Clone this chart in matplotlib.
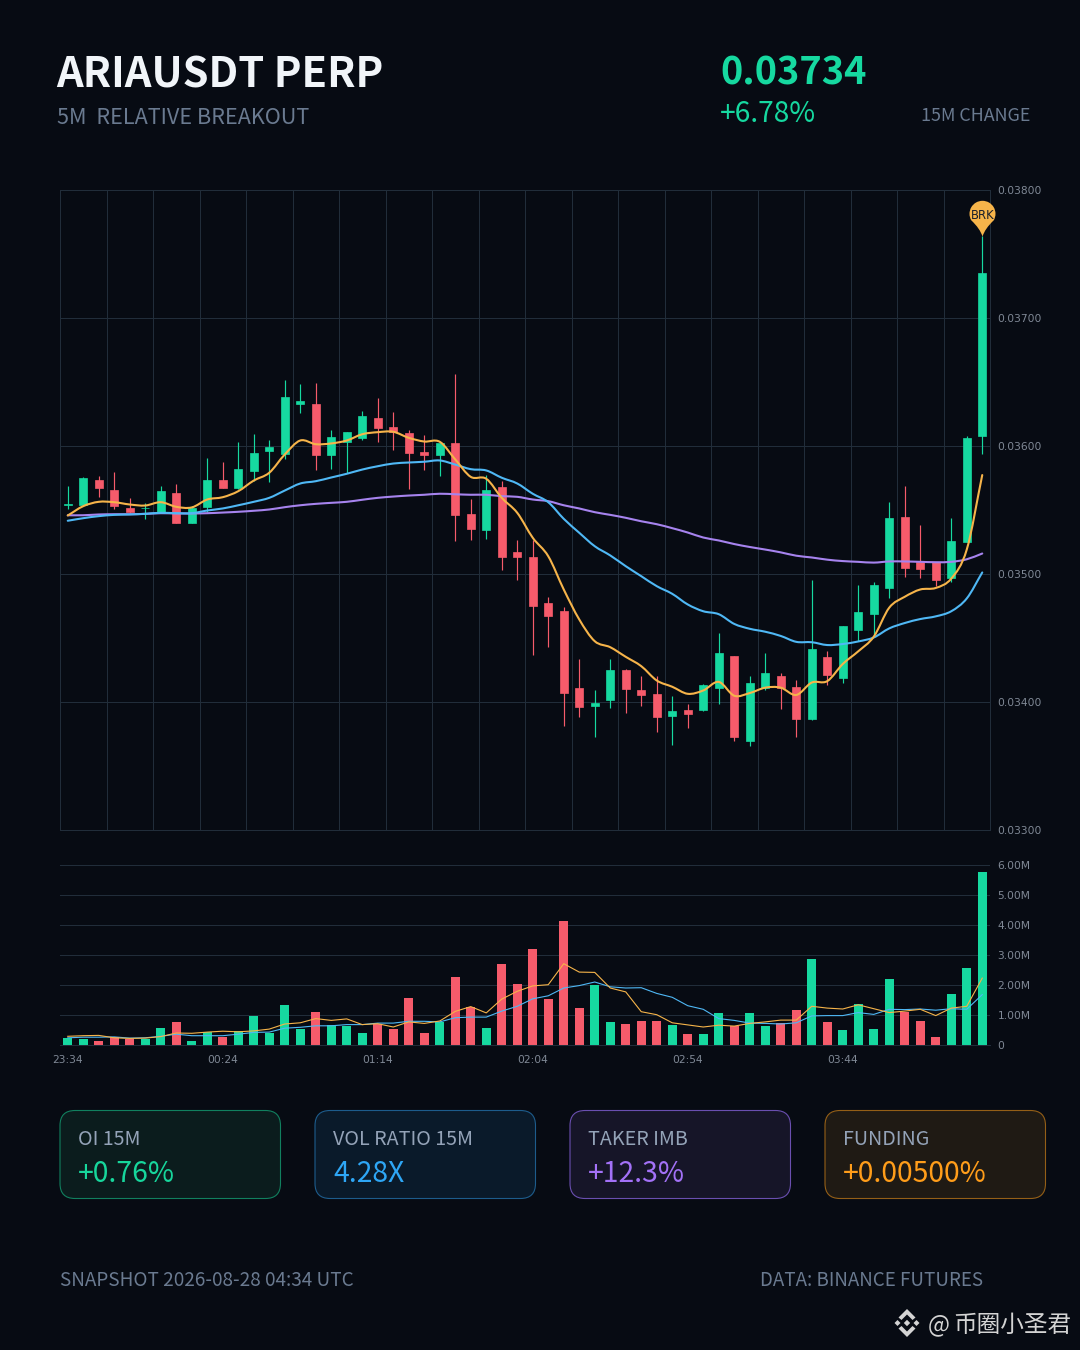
import numpy as np
import matplotlib
matplotlib.use('Agg')
import matplotlib.pyplot as plt
from matplotlib.patches import FancyBboxPatch, Polygon, PathPatch
from matplotlib.path import Path

plt.rcParams['font.family'] = ['Noto Sans CJK SC', 'DejaVu Sans']

# prices are in units of 0.00001
opens = [3553.9, 3554.1, 3573.8, 3566.0, 3551.7, 3551.2, 3548.3, 3562.9, 3540.0, 3552.0,
         3573.8, 3567.0, 3580.1, 3595.9, 3594.1, 3633.0, 3633.0, 3592.8, 3603.0, 3605.9,
         3622.0, 3615.0, 3609.8, 3595.7, 3592.8, 3602.0, 3547.0, 3534.0, 3567.8, 3516.8,
         3512.9, 3477.0, 3471.0, 3411.1, 3397.0, 3401.2, 3424.8, 3409.0, 3405.9, 3388.9,
         3393.9, 3394.1, 3411.2, 3435.6, 3369.7, 3411.2, 3420.5, 3411.7, 3386.7, 3434.8,
         3419.1, 3455.9, 3469.1, 3488.7, 3544.7, 3509.2, 3509.2, 3497.0, 3524.8, 3607.8]
closes = [3554.7, 3574.8, 3567.0, 3553.0, 3548.8, 3551.7, 3565.0, 3540.0, 3551.7, 3573.8,
          3567.0, 3581.9, 3594.9, 3599.6, 3637.9, 3634.8, 3592.8, 3606.9, 3611.1, 3623.8,
          3613.9, 3611.1, 3594.9, 3592.8, 3602.0, 3545.9, 3534.8, 3566.0, 3512.9, 3512.9,
          3474.8, 3466.8, 3407.2, 3396.0, 3399.6, 3424.8, 3409.8, 3405.1, 3387.9, 3392.8,
          3391.0, 3413.4, 3438.4, 3372.8, 3414.6, 3422.6, 3411.2, 3387.1, 3441.6, 3420.9,
          3459.0, 3470.5, 3491.6, 3543.8, 3504.9, 3503.8, 3495.5, 3525.7, 3606.6, 3734.8]
highs = [3568.4, 3575.4, 3576.7, 3579.3, 3559.5, 3555.6, 3568.4, 3570.5, 3553.5, 3590.5,
         3587.7, 3603.5, 3609.5, 3604.3, 3651.4, 3648.6, 3649.6, 3612.7, 3611.3, 3627.7,
         3637.7, 3626.4, 3612.7, 3608.4, 3602.5, 3655.9, 3558.4, 3577.2, 3572.3, 3526.2,
         3526.2, 3482.4, 3474.6, 3433.4, 3409.5, 3433.4, 3425.4, 3420.7, 3420.7, 3404.3,
         3398.6, 3414.0, 3454.1, 3436.3, 3420.3, 3438.2, 3422.6, 3417.4, 3495.3, 3440.2,
         3459.5, 3491.3, 3494.1, 3556.6, 3568.4, 3538.4, 3509.2, 3543.4, 3608.0, 3764.0]
lows = [3550.4, 3554.1, 3560.5, 3550.4, 3547.3, 3542.6, 3547.8, 3539.7, 3539.5, 3548.3,
        3567.0, 3566.6, 3572.5, 3571.5, 3590.2, 3625.4, 3581.4, 3582.4, 3578.7, 3604.3,
        3603.3, 3596.5, 3566.6, 3581.4, 3576.4, 3525.4, 3526.2, 3527.5, 3503.3, 3495.2,
        3436.6, 3442.6, 3381.4, 3388.1, 3372.5, 3395.5, 3391.6, 3396.5, 3376.4, 3366.2,
        3379.5, 3392.7, 3398.1, 3369.9, 3365.5, 3409.0, 3394.9, 3372.8, 3386.3, 3413.2,
        3415.2, 3447.3, 3450.9, 3481.3, 3498.0, 3496.5, 3490.7, 3493.6, 3524.8, 3593.4]

ma_orange = [3545.7, 3553.0, 3556.4, 3556.1, 3554.3, 3553.5, 3556.1, 3552.5, 3552.0, 3558.2,
             3560.0, 3564.7, 3573.0, 3579.1, 3593.4, 3604.3, 3601.4, 3602.0, 3604.3, 3609.2,
             3610.8, 3611.1, 3606.4, 3603.5, 3603.3, 3589.5, 3575.9, 3574.4, 3559.5, 3547.8,
             3528.3, 3513.9, 3487.9, 3464.5, 3447.5, 3442.8, 3435.3, 3428.0, 3416.8, 3411.9,
             3406.4, 3409.0, 3415.7, 3404.9, 3407.0, 3411.2, 3411.2, 3405.5, 3415.2, 3416.3,
             3429.7, 3439.6, 3451.0, 3473.7, 3482.2, 3487.9, 3489.1, 3496.4, 3519.1, 3577.3]
ma_blue = [3541.6, 3543.6, 3545.2, 3546.2, 3546.5, 3547.0, 3547.8, 3547.5, 3547.5, 3549.6,
           3551.2, 3553.7, 3556.4, 3559.5, 3565.2, 3570.7, 3572.5, 3575.4, 3578.3, 3581.6,
           3584.2, 3586.3, 3587.1, 3587.7, 3588.7, 3585.5, 3581.9, 3580.9, 3575.2, 3570.7,
           3562.7, 3556.1, 3543.1, 3532.2, 3521.7, 3514.5, 3506.1, 3498.3, 3490.5, 3484.5,
           3476.2, 3470.9, 3468.6, 3461.0, 3457.2, 3454.9, 3451.6, 3447.0, 3446.7, 3444.5,
           3445.3, 3447.3, 3450.4, 3457.5, 3461.7, 3464.8, 3466.9, 3470.9, 3480.9, 3501.2]
ma_purple = [3545.9, 3545.9, 3546.5, 3546.7, 3546.7, 3547.0, 3547.5, 3547.3, 3547.3, 3547.5,
             3548.0, 3548.6, 3549.4, 3550.4, 3552.2, 3553.7, 3554.8, 3555.6, 3556.4, 3558.0,
             3559.5, 3560.5, 3561.3, 3561.9, 3562.7, 3562.3, 3561.9, 3561.9, 3560.8, 3560.3,
             3558.2, 3556.9, 3553.7, 3551.2, 3548.3, 3546.2, 3543.9, 3541.2, 3538.9, 3535.8,
             3532.4, 3528.5, 3526.2, 3523.4, 3521.1, 3519.1, 3516.9, 3514.3, 3512.9, 3511.2,
             3510.1, 3509.5, 3508.9, 3509.8, 3509.8, 3509.5, 3509.2, 3509.5, 3511.5, 3516.0]

# volume in millions
volumes = [0.23, 0.19, 0.13, 0.26, 0.20, 0.21, 0.58, 0.78, 0.14, 0.42,
           0.28, 0.47, 0.96, 0.41, 1.33, 0.53, 1.09, 0.68, 0.64, 0.41,
           0.71, 0.53, 1.56, 0.39, 0.78, 2.27, 1.27, 0.57, 2.70, 2.03,
           3.20, 1.55, 4.12, 1.23, 2.00, 0.77, 0.70, 0.80, 0.79, 0.67,
           0.38, 0.36, 1.06, 0.62, 1.07, 0.63, 0.72, 1.16, 2.88, 0.77,
           0.50, 1.36, 0.52, 2.21, 1.11, 0.79, 0.28, 1.71, 2.57, 5.78]
vol_orange = [0.29, 0.31, 0.32, 0.24, 0.22, 0.23, 0.28, 0.40, 0.39, 0.43,
              0.46, 0.44, 0.47, 0.53, 0.70, 0.74, 0.88, 0.82, 0.87, 0.68,
              0.71, 0.60, 0.77, 0.72, 0.80, 1.12, 1.28, 1.07, 1.53, 1.79,
              1.97, 2.01, 2.71, 2.43, 2.42, 1.90, 1.77, 1.11, 1.01, 0.74,
              0.67, 0.60, 0.66, 0.63, 0.72, 0.77, 0.83, 0.83, 1.29, 1.23,
              1.20, 1.34, 1.21, 1.08, 1.13, 1.19, 0.98, 1.23, 1.29, 2.23]
vol_blue = [0.24, 0.26, 0.26, 0.27, 0.23, 0.24, 0.29, 0.36, 0.31, 0.31,
            0.31, 0.36, 0.42, 0.43, 0.56, 0.59, 0.64, 0.64, 0.68, 0.68,
            0.73, 0.73, 0.79, 0.79, 0.77, 0.91, 0.93, 0.93, 1.13, 1.29,
            1.54, 1.64, 1.90, 1.98, 2.10, 1.94, 1.90, 1.91, 1.72, 1.59,
            1.31, 1.19, 0.88, 0.82, 0.73, 0.72, 0.70, 0.74, 0.97, 0.98,
            0.98, 1.08, 1.02, 1.19, 1.18, 1.20, 1.16, 1.21, 1.19, 1.68]

time_ticks = [0, 10, 20, 30, 40, 50]
time_labels = ['23:34', '00:24', '01:14', '02:04', '02:54', '03:44']
price_ticks = [3300, 3400, 3500, 3600, 3700, 3800]
price_labels = ['0.03300', '0.03400', '0.03500', '0.03600', '0.03700', '0.03800']
vol_ticks = [0, 1, 2, 3, 4, 5, 6]
vol_labels = ['0', '1.00M', '2.00M', '3.00M', '4.00M', '5.00M', '6.00M']

cards = [('OI 15M', '+0.76%', '#17d69c', '#0b1c1d', '#11805f'),
         ('VOL RATIO 15M', '4.28X', '#2ea6f5', '#0a1a2a', '#1d5c8c'),
         ('TAKER IMB', '+12.3%', '#a371f7', '#161528', '#6a4fb0'),
         ('FUNDING', '+0.00500%', '#ff9d1a', '#1f1a14', '#945f17')]

BG = '#070b13'
GRID = '#212d3a'
UP = '#16d9a0'
DOWN = '#f65b6b'
TICK = '#808996'
SLATE = '#6a7a90'
W, H = 1080, 1350

fig = plt.figure(figsize=(W / 100, H / 100), dpi=100, facecolor=BG)


def axes_px(x0, y0, x1, y1):
    return fig.add_axes([x0 / W, 1 - y1 / H, (x1 - x0) / W, (y1 - y0) / H], facecolor='none')


def smooth_line(axis, xs, ys, color, lw, zorder):
    # bezier through the read points, the original line is a smoothed one
    ys = np.asarray(ys, dtype=float)
    xs = np.asarray(xs, dtype=float)
    verts = [(xs[0], ys[0])]
    codes = [Path.MOVETO]
    for i in range(len(xs) - 1):
        slope0 = (ys[i + 1] - ys[max(i - 1, 0)]) / (xs[i + 1] - xs[max(i - 1, 0)])
        slope1 = (ys[min(i + 2, len(ys) - 1)] - ys[i]) / (xs[min(i + 2, len(ys) - 1)] - xs[i])
        dx = (xs[i + 1] - xs[i]) / 3
        verts += [(xs[i] + dx, ys[i] + slope0 * dx), (xs[i + 1] - dx, ys[i + 1] - slope1 * dx),
                  (xs[i + 1], ys[i + 1])]
        codes += [Path.CURVE4] * 3
    axis.add_patch(PathPatch(Path(verts, codes), facecolor='none', edgecolor=color,
                             linewidth=lw, capstyle='round', joinstyle='round', zorder=zorder))


# page overlay in pixel coords, for header, cards and footer
page = fig.add_axes([0, 0, 1, 1], facecolor='none')
page.set_xlim(0, W)
page.set_ylim(H, 0)
page.axis('off')

page.text(56, 87, 'ARIAUSDT PERP', color='#f1f5f9', fontsize=30, fontweight='bold')
page.text(57, 123.5, '5M  RELATIVE BREAKOUT', color=SLATE, fontsize=15.6)
page.text(720, 84.5, '0.03734', color=UP, fontsize=27.3, fontweight='bold')
page.text(720, 122.5, '+6.78%', color=UP, fontsize=20.2)
page.text(1030, 121, '15M CHANGE', color=SLATE, fontsize=12.9, ha='right')

for n, (label, value, col, face, edge) in enumerate(cards):
    x0 = 60 + n * 255
    page.add_patch(FancyBboxPatch((x0 + 15, 1110.5 + 15), 220.5 - 30, 88 - 30,
                                  boxstyle='round,pad=15,rounding_size=15',
                                  facecolor=face, edgecolor=edge, linewidth=0.8))
    page.text(x0 + 18, 1145, label, color='#94a3b8', fontsize=14.2)
    page.text(x0 + 18, 1182, value, color=col, fontsize=20.4)

page.text(60, 1286, 'SNAPSHOT 2026-08-28 04:34 UTC', color=SLATE, fontsize=13.65)
page.text(760, 1286, 'DATA: BINANCE FUTURES', color=SLATE, fontsize=13.5)

# watermark, binance logo plus handle
logo_x, logo_y = 907, 1323
for dx, dy, r in [(0, 0, 3.2), (-9.5, 0, 3), (9.5, 0, 3)]:
    page.add_patch(Polygon([(logo_x + dx - r, logo_y + dy), (logo_x + dx, logo_y + dy - r),
                            (logo_x + dx + r, logo_y + dy), (logo_x + dx, logo_y + dy + r)],
                           facecolor='#d4d4d4', edgecolor='none'))
for s in (-1, 1):
    page.add_patch(Polygon([(logo_x, logo_y + s * 14), (logo_x + 8.5, logo_y + s * 5.5),
                            (logo_x + 5.5, logo_y + s * 3), (logo_x, logo_y + s * 8.5),
                            (logo_x - 5.5, logo_y + s * 3), (logo_x - 8.5, logo_y + s * 5.5)],
                           facecolor='#d4d4d4', edgecolor='none'))
page.text(928, 1331.5, '@', color='#d4d4d4', fontsize=16.7)
page.text(953, 1331.5, '币圈小圣君', color='#d4d4d4', fontsize=17)

x = np.arange(len(opens))
o = np.array(opens)
c = np.array(closes)
colors = [UP if b >= a else DOWN for a, b in zip(opens, closes)]

# price panel
ax = axes_px(60, 190, 990, 830)
ax.set_xlim(-0.5, 59.5)
ax.set_ylim(3300, 3800)
ax.set_xticks(np.arange(-0.5, 60, 3))
ax.set_yticks(price_ticks)
ax.set_yticklabels(price_labels)
ax.tick_params(axis='x', length=0, labelbottom=False)
ax.tick_params(axis='y', length=0, pad=5.5, labelsize=7.7, labelcolor=TICK, left=False,
               labelleft=False, labelright=True)
for lab in ax.get_yticklabels():
    lab.set_family('DejaVu Sans')
ax.grid(True, color=GRID, linewidth=0.75)
ax.set_axisbelow(True)
for sp in ax.spines.values():
    sp.set_color(GRID)
    sp.set_linewidth(0.75)

ax.vlines(x, lows, highs, colors=colors, linewidth=0.85, zorder=2)
ax.bar(x, np.abs(c - o), bottom=np.minimum(o, c), width=0.52, color=colors,
       edgecolor=colors, linewidth=0.5, zorder=3)
smooth_line(ax, x, ma_purple, '#a683ee', 1.5, 4)
smooth_line(ax, x, ma_blue, '#4fb8f5', 1.5, 5)
smooth_line(ax, x, ma_orange, '#f6b44a', 1.5, 6)

# BRK pin sits on the last high, tip pointing down at it
arc = Path.arc(-30, 210)
pin_top = arc.vertices * 13 + [0, 22.7]
pin_verts = np.vstack([pin_top, [[-2.5, 8], [0, 0], [2.5, 8], pin_top[0], pin_top[0]]])
pin_codes = list(arc.codes) + [Path.CURVE3, Path.CURVE3, Path.CURVE3, Path.CURVE3, Path.CLOSEPOLY]
pin = Path(pin_verts, pin_codes)
ax.plot([x[-1]], [highs[-1]], marker=pin, markersize=51.4, color='#f6b44a',
        markeredgewidth=0, clip_on=False, zorder=7)
ax.annotate('BRK', (x[-1], highs[-1]), xytext=(0, 14.6), textcoords='offset points',
            ha='center', va='center', fontsize=8.3, color='#1a1f2a', family='DejaVu Sans', zorder=8)

# volume panel
vx = axes_px(60, 865, 990, 1045)
vx.set_xlim(-0.5, 59.5)
vx.set_ylim(0, 6)
vx.set_yticks(vol_ticks)
vx.set_yticklabels(vol_labels)
vx.set_xticks(time_ticks)
vx.set_xticklabels(time_labels)
vx.tick_params(axis='x', length=0, pad=7.5, labelsize=7.7, labelcolor=TICK)
vx.tick_params(axis='y', length=0, pad=5.5, labelsize=7.7, labelcolor=TICK, left=False,
               labelleft=False, labelright=True)
for lab in vx.get_yticklabels() + vx.get_xticklabels():
    lab.set_family('DejaVu Sans')
vx.grid(True, axis='y', color=GRID, linewidth=0.75)
vx.set_axisbelow(True)
for name, sp in vx.spines.items():
    sp.set_visible(name == 'bottom')
    sp.set_color(GRID)
    sp.set_linewidth(0.75)

vx.bar(x, volumes, width=0.56, color=colors, zorder=2)
vx.plot(x, vol_blue, color='#4fb8f5', linewidth=0.8, zorder=3)
vx.plot(x, vol_orange, color='#f6b44a', linewidth=0.8, zorder=4)

fig.savefig('out.png', dpi=100, facecolor=BG)
